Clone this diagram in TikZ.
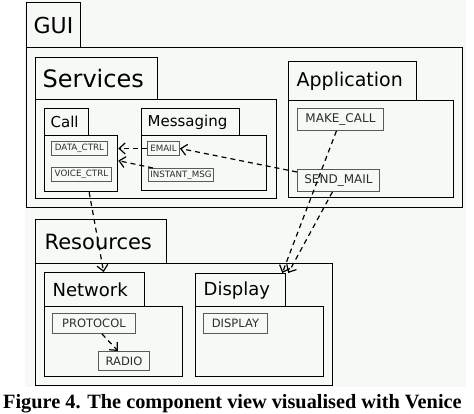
\documentclass[tikz,border=0pt]{standalone}
\usepackage{fontspec}
\setmainfont{DejaVu Sans}
\newfontfamily\captfont{Liberation Serif}
\usetikzlibrary{arrows.meta}
\definecolor{pkgfill}{RGB}{246,249,246}
\definecolor{compgray}{RGB}{90,90,90}
\definecolor{comptext}{RGB}{45,45,45}
\newcommand\pkgsize[1]{\fontsize{#1}{#1}\selectfont}

\tikzset{
  pkgtab/.style={draw=black,line width=1.3pt,fill=pkgfill,anchor=north west,
    inner xsep=7pt,inner ysep=0pt,align=left},
  pkgbody/.style={draw=black,line width=1.3pt,fill=pkgfill,anchor=north west,
    inner sep=0pt},
  comp/.style={draw=compgray,line width=0.9pt,fill=pkgfill,anchor=north west,
    inner sep=0pt,text=comptext},
  uses/.style={line width=1.2pt,dash pattern=on 5pt off 4pt,
    -{Straight Barb[length=6pt,width=11pt]}}
}

\begin{document}
\begin{tikzpicture}[x=1pt,y=-1pt]
  \useasboundingbox (0,0) rectangle (474,414);
  % tinted backdrop of the screenshot
  \fill[pkgfill] (25,0) rectangle (466,387);

  % --- GUI package ---
  \node[pkgtab,text width=40pt,minimum height=45pt,font=\pkgsize{22}] (guitab) at (26,2) {GUI};
  \node[pkgbody,minimum width=436pt,minimum height=160pt] (guibody) at (26,47) {};

  % Services
  \node[pkgtab,text width=108pt,minimum height=42pt,font=\pkgsize{24}] (servtab) at (35,57) {Services};
  \node[pkgbody,minimum width=241pt,minimum height=99pt] (servbody) at (35,99) {};

  % Call
  \node[pkgtab,inner xsep=6pt,text width=32pt,minimum height=27pt,font=\pkgsize{15}] (calltab) at (44,108) {Call};
  \node[pkgbody,minimum width=73pt,minimum height=56pt] (callbody) at (44,135) {};
  \node[comp,minimum width=56pt,minimum height=14pt,font=\pkgsize{8.7}] (datactrl) at (51,141) {DATA\_CTRL};
  \node[comp,minimum width=60pt,minimum height=14pt,font=\pkgsize{8.7}] (voicectrl) at (51,167) {VOICE\_CTRL};

  % Messaging
  \node[pkgtab,inner xsep=6pt,text width=86pt,minimum height=27pt,font=\pkgsize{15}] (msgtab) at (141,108) {Messaging};
  \node[pkgbody,minimum width=125pt,minimum height=55pt] (msgbody) at (141,135) {};
  \node[comp,minimum width=32pt,minimum height=14pt,font=\pkgsize{8.7}] (email) at (147,141) {EMAIL};
  \node[comp,minimum width=65pt,minimum height=13pt,font=\pkgsize{8.7}] (instant) at (148,168) {INSTANT\_MSG};

  % Application
  \node[pkgtab,inner xsep=8pt,text width=112pt,minimum height=39pt,font=\pkgsize{19}] (apptab) at (288,61) {Application};
  \node[pkgbody,minimum width=165pt,minimum height=97pt] (appbody) at (288,100) {};
  \node[comp,minimum width=86pt,minimum height=22pt,font=\pkgsize{12}] (makecall) at (297,108) {MAKE\_CALL};
  \node[comp,minimum width=82pt,minimum height=22pt,font=\pkgsize{12}] (sendmail) at (297,169) {SEND\_MAIL};

  % --- Resources package ---
  \node[pkgtab,inner xsep=9pt,text width=113pt,minimum height=44pt,font=\pkgsize{21}] (restab) at (35,219) {Resources};
  \node[pkgbody,minimum width=297pt,minimum height=122pt] (resbody) at (35,263) {};

  % Network
  \node[pkgtab,inner xsep=8pt,text width=84pt,minimum height=34pt,font=\pkgsize{18}] (nettab) at (44,272) {Network};
  \node[pkgbody,minimum width=138pt,minimum height=70pt] (netbody) at (44,306) {};
  \node[comp,minimum width=83pt,minimum height=20pt,font=\pkgsize{11.5}] (protocol) at (52,313) {PROTOCOL};
  \node[comp,minimum width=51pt,minimum height=19pt,font=\pkgsize{11.5}] (radio) at (98,351) {RADIO};

  % Display
  \node[pkgtab,inner xsep=8pt,text width=74pt,minimum height=33pt,font=\pkgsize{18}] (disptab) at (195,273) {Display};
  \node[pkgbody,minimum width=128pt,minimum height=70pt] (dispbody) at (195,306) {};
  \node[comp,minimum width=64pt,minimum height=20pt,font=\pkgsize{11.5}] (display) at (203,313) {DISPLAY};

  % dependencies
  \draw[uses] (email.west) -- (callbody.east |- email.west);
  \draw[uses] ([xshift=5pt]instant.north west) -- ([yshift=3pt]callbody.east);
  \draw[uses] ([yshift=-3pt]sendmail.north west) -- (email.east);
  \draw[uses] ([xshift=8pt]callbody.south) -- ([xshift=9pt]nettab.north);
  \draw[uses] ([xshift=-4pt]makecall.south) -- ([xshift=-4pt]disptab.north east);
  \draw[uses] ([xshift=-6pt]sendmail.south) -- ([xshift=2pt]disptab.north east);
  \draw[uses] ([xshift=8pt]protocol.south) -- ([xshift=-6pt]radio.north);

  % caption under the packages
  \node[font=\captfont\bfseries\pkgsize{20.3},anchor=base west,inner sep=0pt] (caption) at (3,408)
    {Figure 4. The component view visualised with Venice};
\end{tikzpicture}
\end{document}
